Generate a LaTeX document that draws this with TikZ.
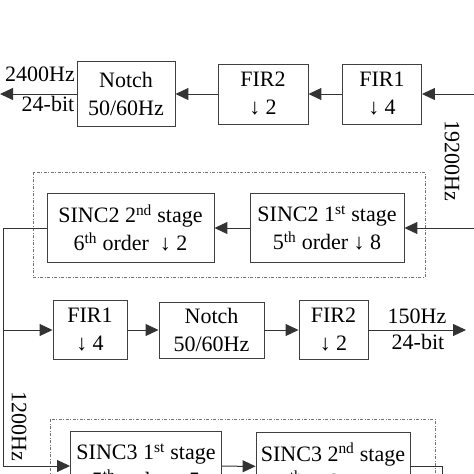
\documentclass[tikz,border=0pt]{standalone}
\usepackage{fontspec}
\setmainfont{Liberation Serif}
\usepackage{tikz}
\usetikzlibrary{arrows.meta}
\tikzset{
  blk/.style={draw=black!75, line width=0.9pt, align=center, inner sep=0pt,
    font=\fontsize{22}{28}\selectfont},
  lbl/.style={inner sep=0pt, font=\fontsize{22}{26}\selectfont},
  wire/.style={draw=black!80, line width=1pt},
  arr/.style={wire, -{Triangle[length=13pt,width=12pt]}},
  group/.style={draw=black!55, line width=0.8pt,
    dash pattern=on 3pt off 1.5pt on 1pt off 1.5pt}
}
\begin{document}
\begin{tikzpicture}[x=1pt,y=-1pt]
  \useasboundingbox (0,0) rectangle (474,474);
  % row 1
  \node[blk, minimum width=98pt, minimum height=65pt] (notcha) at (126,94) {Notch\\50/60Hz};
  \node[blk, minimum width=90pt, minimum height=60pt] (fir2a) at (263,94) {FIR2\\↓ 2};
  \node[blk, minimum width=79pt, minimum height=60pt] (fir1a) at (382,94) {FIR1\\↓ 4};
  \coordinate (in1) at (480,94);
  \coordinate (out1) at (0,94);
  \draw[arr] (in1) -- (fir1a);
  \draw[arr] (fir1a) -- (fir2a);
  \draw[arr] (fir2a) -- (notcha);
  \draw[arr] (notcha) -- (out1);
  \node[lbl] (rate1) at (40,74) {2400Hz};
  \node[lbl] (bits1) at (48,104) {24-bit};
  \node[lbl, rotate=-90] (rate0) at (452,161) {19200Hz};
  % row 2
  \draw[group] (33,172) rectangle (425,277);
  \node[blk, minimum width=167pt, minimum height=69pt] (sinc2b) at (130.5,228)
    {SINC2 2\textsuperscript{nd} stage\\6\textsuperscript{th} order~ ↓ 2};
  \node[blk, minimum width=154pt, minimum height=69pt] (sinc2a) at (327,228)
    {SINC2 1\textsuperscript{st} stage\\5\textsuperscript{th} order ↓ 8};
  \coordinate (in2) at (480,228);
  \coordinate (corner) at (3,228);
  \coordinate (tap) at (3,330);
  \draw[arr] (in2) -- (sinc2a);
  \draw[arr] (sinc2a) -- (sinc2b);
  \draw[wire] (sinc2b.west) -- (corner) -- (tap);
  % row 3
  \node[blk, minimum width=74pt, minimum height=59pt] (fir1b) at (90,330) {FIR1\\↓ 4};
  \node[blk, minimum width=105pt, minimum height=56pt] (notchb) at (211.5,330) {Notch\\50/60Hz};
  \node[blk, minimum width=69pt, minimum height=59pt] (fir2b) at (333.5,330) {FIR2\\↓ 2};
  \coordinate (out3) at (466,330);
  \draw[arr] (tap) -- (fir1b);
  \draw[arr] (fir1b) -- (notchb);
  \draw[arr] (notchb) -- (fir2b);
  \draw[arr] (fir2b) -- (out3);
  \node[lbl] (rate3) at (417,316) {150Hz};
  \node[lbl] (bits3) at (418,342) {24-bit};
  \node[lbl, rotate=-90] (rate2) at (19,426) {1200Hz};
  % row 4
  \draw[group] (50,419) rectangle (435,530);
  \node[blk, minimum width=151pt, minimum height=69pt] (sinc3a) at (146,466)
    {SINC3 1\textsuperscript{st} stage\\5\textsuperscript{th} order ↓ 5};
  \node[blk, minimum width=154pt, minimum height=69pt] (sinc3b) at (333,466.5)
    {SINC3 2\textsuperscript{nd} stage\\5\textsuperscript{th} order ↓ 2};
  \coordinate (out4) at (442,466.5);
  \coordinate (out4b) at (442,490);
  \draw[arr] (tap) |- (sinc3a.west);
  \draw[arr] (sinc3a) -- (sinc3b);
  \draw[wire] (sinc3b.east) -- (out4) -- (out4b);
\end{tikzpicture}
\end{document}
